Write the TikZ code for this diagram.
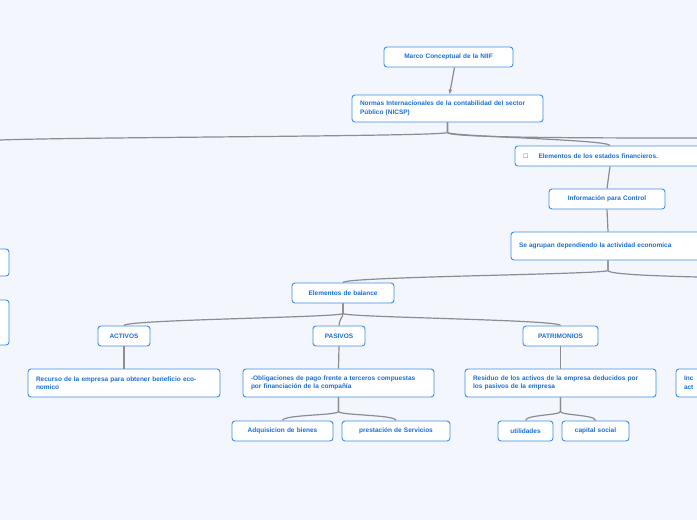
\documentclass[tikz,border=0pt]{standalone}
\usepackage{fontspec}
\setmainfont{Liberation Sans}
\newfontfamily\symfont{DejaVu Sans}
\usetikzlibrary{calc,arrows.meta}
\definecolor{bg}{HTML}{F3F6FD}
\definecolor{txt}{HTML}{1B6FD8}
\definecolor{bord}{HTML}{3C8EE6}
\definecolor{lnk}{HTML}{8C8C92}
\tikzset{
  box/.style={draw=bord, fill=white, rounded corners=3pt, line width=0.9pt, text=txt,
    font=\fontsize{6.5}{8.5}\selectfont\bfseries, inner xsep=8pt, inner ysep=0pt, align=left},
  link/.style={draw=lnk, line width=1.2pt},
}
\newcommand{\bx}[7]{\node[box,minimum width=#4pt,minimum height=#5pt,text width=#4pt-16pt,align=#6] (#1) at (#2,#3) {#7};}
\newcommand{\br}[3]{\draw[link] (#1.south) -- ($(#1.south)+(0,#3)$) .. controls +(0,4) and ($(#2.north)+(0,-6)$) .. (#2.north);}
\begin{document}
\begin{tikzpicture}[x=1pt,y=-1pt]
\fill[bg] (0,0) rectangle (697,520);
\useasboundingbox (0,0) rectangle (697,520);
\bx{marco}{448.5}{57}{129}{20}{center}{Marco Conceptual de la NIIF}
\bx{normas}{447.5}{108.5}{191}{27}{left}{Normas Internacionales de la contabilidad del sector Público (NICSP)}
\bx{elem}{610}{156}{190}{20}{left}{{\symfont\fontsize{6}{6}\selectfont ☐}\hspace{8pt} Elementos de los estados financieros.}
\bx{info}{607}{199}{116}{20}{center}{Información para Control}
\bx{agr}{608}{246}{194}{28}{left}{Se agrupan dependiendo la actividad economica}
\bx{l1}{-50}{262.5}{118}{27}{left}{}
\bx{l2}{-50}{322.5}{118}{45}{left}{}
\bx{bal}{343}{293}{102}{20}{center}{Elementos de balance}
\bx{act}{124}{336}{52}{20}{center}{ACTIVOS}
\bx{pas}{339}{336}{52}{20}{center}{PASIVOS}
\bx{pat}{560.5}{336}{75}{20}{center}{PATRIMONIOS}
\bx{rec}{124}{383}{192}{28}{left}{Recurso de la empresa para obtener beneficio economico}
\bx{obl}{338.5}{383}{191}{28}{left}{-Obligaciones de pago frente a terceros compuestas por financiación de la compañía}
\bx{res}{560.5}{383}{191}{28}{left}{Residuo de los activos de la empresa deducidos por los pasivos de la empresa}
\bx{inc}{770}{383}{188}{28}{left}{Inc\\act}
\bx{adq}{282.5}{431}{101}{20}{center}{Adquisicion de bienes}
\bx{pre}{396}{431}{108}{20}{center}{prestación de Servicios}
\bx{uti}{525.5}{431}{55}{20}{center}{utilidades}
\bx{cap}{595.5}{431}{67}{20}{center}{capital social}
\coordinate (fl) at (0,140);
\coordinate (fr) at (697,138);
\coordinate (fr2) at (697,277);
\draw[link,-{Latex[length=5pt,width=4pt]}] ([xshift=6pt]marco.south) -- ([xshift=2pt]normas.north);
\draw[link] (normas.south) -- ++(0,10) .. controls +(0,4) and (80,137) .. (fl);
\br{normas}{elem}{10}
\draw[link] (normas.south) -- ++(0,10) .. controls +(0,5) and (560,138) .. (fr);
\draw[link] (elem.south) -- (info.north);
\draw[link] (info.south) -- (agr.north);
\br{agr}{bal}{10}
\draw[link] (agr.south) -- ++(0,10) .. controls +(0,4) and (660,276) .. (fr2);
\br{bal}{act}{10}
\br{bal}{pas}{10}
\br{bal}{pat}{10}
\draw[link] (act.south) -- (rec.north);
\draw[link] (pas.south) -- (obl.north);
\draw[link] (pat.south) -- (res.north);
\br{obl}{adq}{14}
\br{obl}{pre}{14}
\br{res}{uti}{14}
\br{res}{cap}{14}
\end{tikzpicture}
\end{document}
